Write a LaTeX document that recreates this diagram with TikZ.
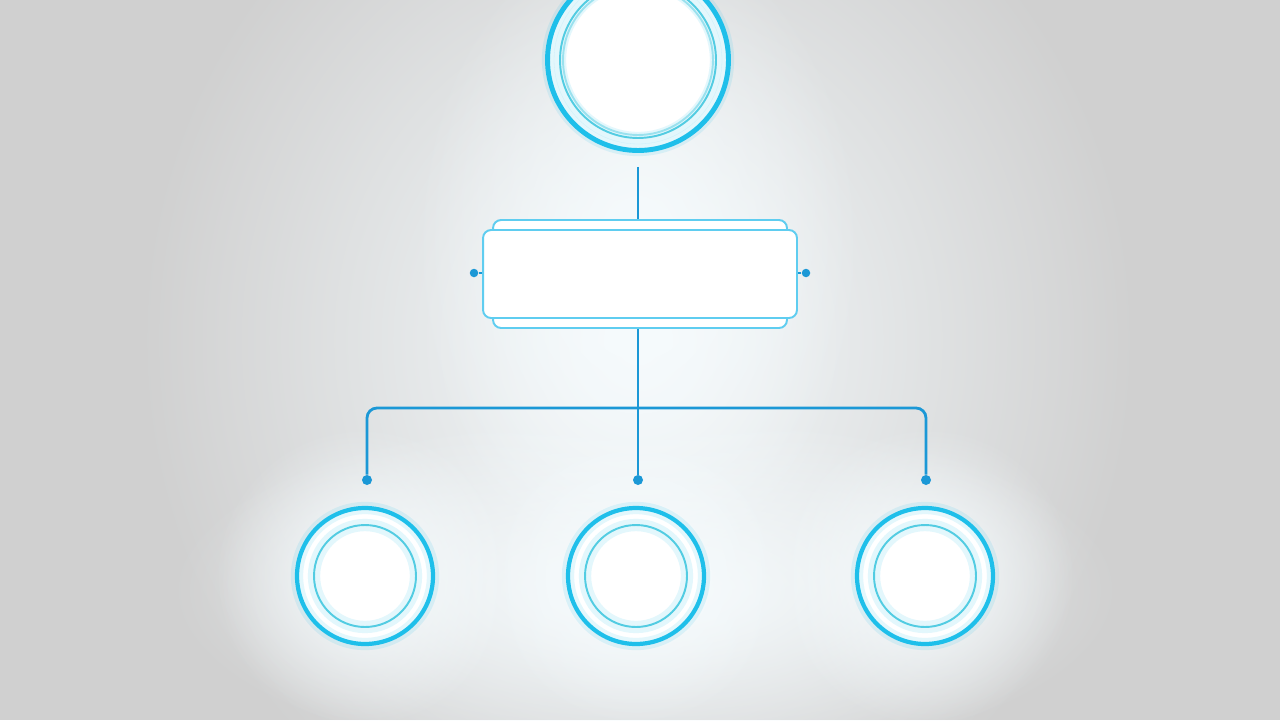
\documentclass[tikz,border=0pt]{standalone}
\usepackage{tikz}
\usetikzlibrary{calc,fadings}
\definecolor{bggray}{HTML}{D0D0D0}
\definecolor{glowwhite}{HTML}{F6FBFD}
\definecolor{ringcyan}{HTML}{1EBFEA}
\definecolor{innercyan}{HTML}{52CCE2}
\definecolor{platecyan}{HTML}{5FCDF0}
\definecolor{wireblue}{HTML}{1B98D6}
\tikzfading[name=glowfade, inner color=transparent!0, outer color=transparent!100]

\begin{document}
\begin{tikzpicture}[x=0.02cm,y=-0.02cm,
    ring/.style={circle, draw=ringcyan, fill=white, line width=2.4pt,
      minimum size=2.72cm, inner sep=0pt},
    bigring/.style={ring, line width=2.8pt, minimum size=3.62cm},
    innerring/.style={draw=innercyan, line width=1.1pt},
    halo/.style={draw=ringcyan, line width=7pt, opacity=0.12},
    plate/.style={draw=platecyan, fill=white, line width=1.1pt,
      rounded corners=0.16cm, inner sep=0pt},
    wire/.style={draw=wireblue, line width=1.6pt},
    tap/.style={circle, fill=wireblue, inner sep=0pt, minimum size=0.2cm}]
      % background and glow
      \fill[bggray] (0,0) rectangle (1280,720);
      \useasboundingbox (0,0) rectangle (1280,720);
      \fill[glowwhite, path fading=glowfade] (638,340) ellipse (10cm and 11cm);
      \fill[glowwhite, path fading=glowfade] (638,250) ellipse (4.5cm and 6.5cm);
      \fill[glowwhite, path fading=glowfade] (645,590) ellipse (9.5cm and 3.6cm);
      \fill[glowwhite, path fading=glowfade] (365,576) circle (3cm);
      \fill[glowwhite, path fading=glowfade] (636,576) circle (3cm);
      \fill[glowwhite, path fading=glowfade] (925,576) circle (3cm);
      % tree nodes
      \node[bigring] (top) at (638,60) {};
      \node[plate, minimum width=5.88cm, minimum height=2.16cm] (box) at (640,274) {};
      \node[plate, minimum width=6.28cm, minimum height=1.76cm] (boxfront) at (640,274) {};
      \node[ring] (sub1) at (365,576) {};
      \node[ring] (sub2) at (636,576) {};
      \node[ring] (sub3) at (925,576) {};
      \node[tap, minimum size=0.17cm] (portl) at (474,273) {};
      \node[tap, minimum size=0.17cm] (portr) at (806,273) {};
      \node[tap] (tap1) at (367,480) {};
      \node[tap] (tap2) at (638,480) {};
      \node[tap] (tap3) at (926,480) {};
      \coordinate (bus) at (638,408);
      % rings
      \draw[halo] (top) circle (1.8cm);
      \draw[halo] (top) circle (1.56cm);
      \draw[innerring] (top) circle (1.56cm);
      \draw[innerring, opacity=0.5] (top) circle (1.5cm);
      \foreach \s in {sub1,sub2,sub3} {
        \draw[halo] (\s) circle (1.36cm);
        \draw[halo] (\s) circle (1.02cm);
        \draw[innerring] (\s) circle (1.02cm);
      }
      % tree edges
      \draw[wire, shorten <=0.28cm] (top.south) -- (top.south |- box.north);
      \draw[wire] (box.south -| tap2) -- (tap2);
      \draw[wire, rounded corners=0.2cm] (tap1) |- (bus) -| (tap3);
      \draw[wire, line width=1pt] (portl) -- (portl -| boxfront.west);
      \draw[wire, line width=1pt] (portr) -- (portr -| boxfront.east);
    \end{tikzpicture}
\end{document}
